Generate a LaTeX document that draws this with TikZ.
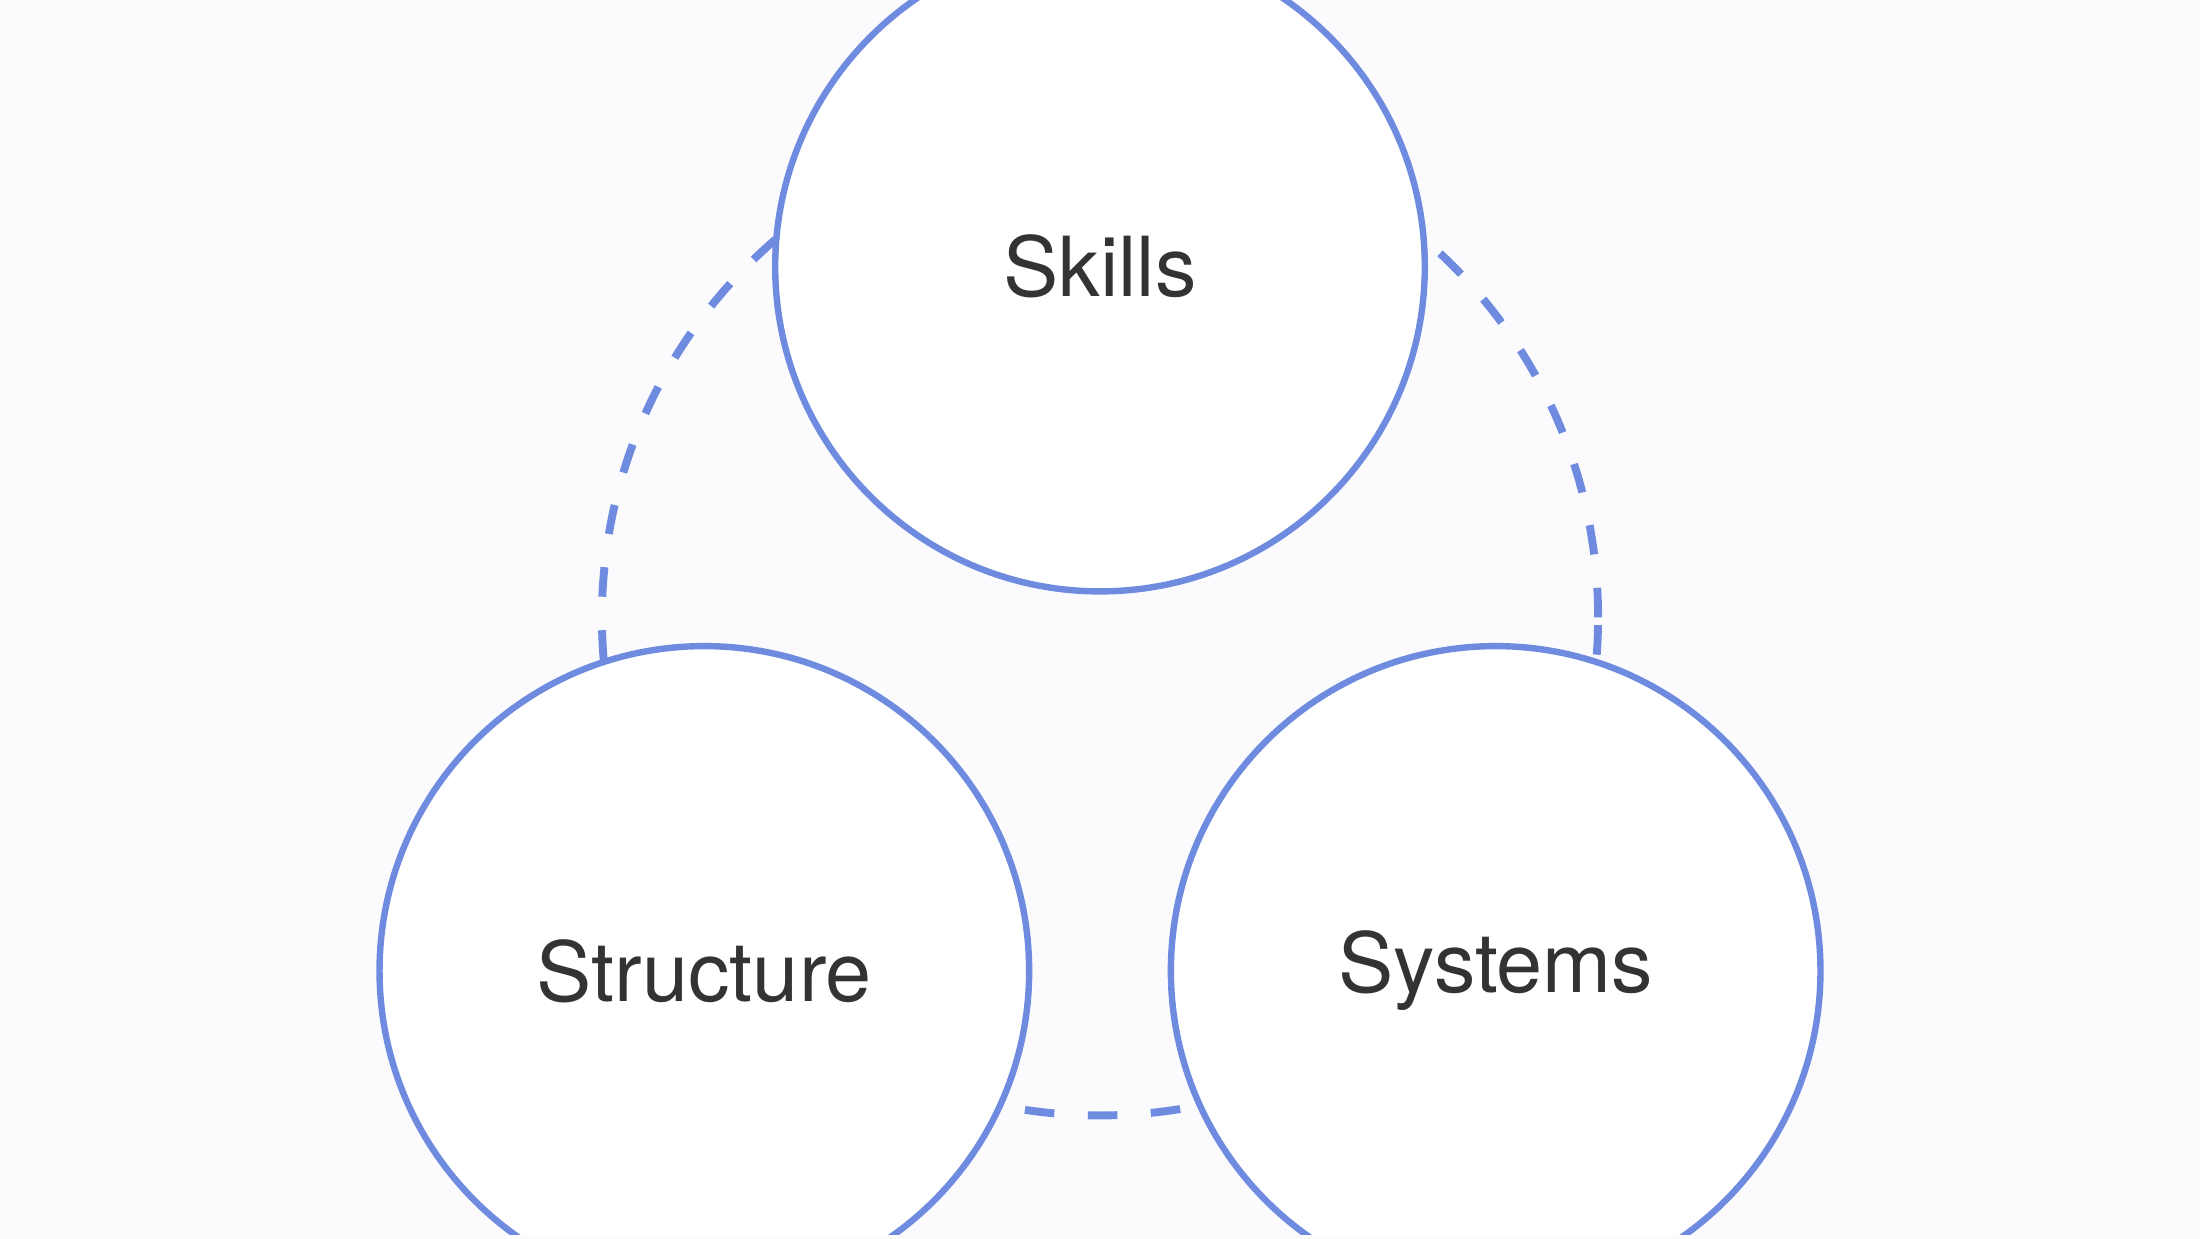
\documentclass[tikz,border=0pt]{standalone}
\usepackage{fontspec}
\setmainfont{TeX Gyre Heros}
\definecolor{bg}{HTML}{FBFBFE}
\definecolor{ring}{HTML}{6F8BE0}
\definecolor{txt}{HTML}{333333}
\begin{document}
\begin{tikzpicture}[x=0.05cm,y=-0.05cm,
  ringc/.style={circle,draw=ring,fill=white,line width=6.5pt,minimum size=463*0.05cm,inner sep=0pt,text=txt,font=\fontsize{84}{90}\selectfont},
  dashring/.style={draw=ring,line width=8pt,dash pattern=on 30pt off 34pt}]
\useasboundingbox (0,0) rectangle (1568,883);
\fill[bg] (0,0) rectangle (1568,883);
\begin{scope}
\clip (0,0) rectangle (1568,880);
\coordinate (mid) at (784,440);
\draw[dashring] (mid) circle[radius=355*0.05cm];
\node[ringc] (skills) at (784,190) {Skills};
\node[ringc] (structure) at (502,692) {Structure};
\node[ringc] (systems) at (1066,692) {Systems};
\end{scope}
\end{tikzpicture}
\end{document}
